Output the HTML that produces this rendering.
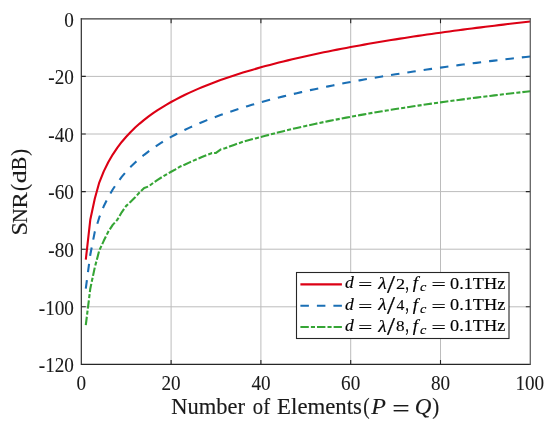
<!DOCTYPE html>
<html><head><meta charset="utf-8"><style>
html,body{margin:0;padding:0;background:#fff;width:550px;height:424px;overflow:hidden}
svg{display:block}
</style></head><body>
<svg width="550" height="424" viewBox="0 0 550 424">
<rect width="550" height="424" fill="#fff"/>
<path d="M171.10,18.80V364.40M260.90,18.80V364.40M350.70,18.80V364.40M440.50,18.80V364.40M530.30,18.80V364.40M81.30,76.40H530.30M81.30,134.00H530.30M81.30,191.60H530.30M81.30,249.20H530.30M81.30,306.80H530.30" stroke="#bcbcbc" stroke-width="1" fill="none"/>
<path d="M85.79,259.68 L90.28,219.82 L94.77,198.67 L99.26,182.55 L103.75,171.39 L108.24,162.26 L112.73,154.55 L117.22,147.87 L121.71,141.98 L126.20,136.71 L130.69,131.94 L135.18,127.59 L139.67,123.58 L144.16,119.87 L148.65,116.42 L153.14,113.19 L157.63,110.16 L162.12,107.30 L166.61,104.59 L171.10,102.03 L175.59,99.59 L180.08,97.26 L184.57,95.04 L189.06,92.91 L193.55,90.86 L198.04,88.90 L202.53,87.01 L207.02,85.19 L211.51,83.44 L216.00,81.74 L220.49,80.10 L224.98,78.51 L229.47,76.97 L233.96,75.48 L238.45,74.03 L242.94,72.62 L247.43,71.25 L251.92,69.92 L256.41,68.62 L260.90,67.35 L265.39,66.11 L269.88,64.91 L274.37,63.73 L278.86,62.58 L283.35,61.46 L287.84,60.36 L292.33,59.28 L296.82,58.23 L301.31,57.20 L305.80,56.19 L310.29,55.20 L314.78,54.22 L319.27,53.27 L323.76,52.34 L328.25,51.42 L332.74,50.52 L337.23,49.63 L341.72,48.76 L346.21,47.91 L350.70,47.06 L355.19,46.24 L359.68,45.42 L364.17,44.62 L368.66,43.84 L373.15,43.06 L377.64,42.30 L382.13,41.54 L386.62,40.80 L391.11,40.07 L395.60,39.35 L400.09,38.64 L404.58,37.94 L409.07,37.25 L413.56,36.57 L418.05,35.90 L422.54,35.24 L427.03,34.58 L431.52,33.94 L436.01,33.30 L440.50,32.67 L444.99,32.05 L449.48,31.44 L453.97,30.83 L458.46,30.23 L462.95,29.64 L467.44,29.05 L471.93,28.47 L476.42,27.90 L480.91,27.34 L485.40,26.78 L489.89,26.23 L494.38,25.68 L498.87,25.14 L503.36,24.60 L507.85,24.07 L512.34,23.55 L516.83,23.03 L521.32,22.52 L525.81,22.01 L530.30,21.51" stroke="#dc0014" stroke-width="2.1" fill="none" stroke-linejoin="round"/>
<path d="M85.79,288.57 L90.28,254.75 L94.77,231.88 L99.26,217.48 L103.75,206.32 L108.24,197.20 L112.73,189.49 L117.22,182.81 L121.71,176.91 L126.20,171.64 L130.69,166.87 L135.18,162.52 L139.67,158.52 L144.16,154.81 L148.65,151.36 L153.14,148.13 L157.63,145.09 L162.12,142.23 L166.61,139.53 L171.10,136.96 L175.59,134.52 L180.08,132.19 L184.57,129.97 L189.06,127.84 L193.55,125.80 L198.04,123.84 L202.53,121.95 L207.02,120.13 L211.51,118.37 L216.00,116.68 L220.49,115.04 L224.98,113.45 L229.47,111.91 L233.96,110.42 L238.45,108.96 L242.94,107.56 L247.43,106.18 L251.92,104.85 L256.41,103.55 L260.90,102.28 L265.39,101.05 L269.88,99.84 L274.37,98.67 L278.86,97.52 L283.35,96.39 L287.84,95.29 L292.33,94.22 L296.82,93.16 L301.31,92.13 L305.80,91.12 L310.29,90.13 L314.78,89.16 L319.27,88.21 L323.76,87.27 L328.25,86.35 L332.74,85.45 L337.23,84.56 L341.72,83.69 L346.21,82.84 L350.70,82.00 L355.19,81.17 L359.68,80.36 L364.17,79.56 L368.66,78.77 L373.15,77.99 L377.64,77.23 L382.13,76.48 L386.62,75.74 L391.11,75.01 L395.60,74.29 L400.09,73.58 L404.58,72.88 L409.07,72.19 L413.56,71.51 L418.05,70.83 L422.54,70.17 L427.03,69.52 L431.52,68.87 L436.01,68.23 L440.50,67.61 L444.99,66.98 L449.48,66.37 L453.97,65.76 L458.46,65.16 L462.95,64.57 L467.44,63.99 L471.93,63.41 L476.42,62.84 L480.91,62.27 L485.40,61.71 L489.89,61.16 L494.38,60.61 L498.87,60.07 L503.36,59.54 L507.85,59.01 L512.34,58.48 L516.83,57.97 L521.32,57.45 L525.81,56.94 L530.30,56.44" stroke="#1a6fb5" stroke-width="2.1" fill="none" stroke-dasharray="8.5 8" stroke-linejoin="round"/>
<path d="M85.79,325.09 L90.28,288.68 L94.77,267.53 L99.26,250.55 L103.75,240.82 L108.24,231.70 L112.73,224.85 L117.22,219.90 L121.71,212.28 L126.20,205.86 L130.69,201.66 L135.18,197.31 L139.67,192.30 L144.16,188.01 L148.65,186.43 L153.14,182.92 L157.63,179.88 L162.12,177.02 L166.61,174.32 L171.10,171.75 L175.59,169.31 L180.08,166.55 L184.57,164.76 L189.06,162.63 L193.55,160.59 L198.04,158.63 L202.53,156.74 L207.02,154.92 L211.51,153.16 L216.00,152.91 L220.49,149.54 L224.98,148.24 L229.47,146.56 L233.96,144.92 L238.45,143.32 L242.94,141.77 L247.43,140.54 L251.92,139.35 L256.41,138.20 L260.90,137.07 L265.39,135.84 L269.88,134.63 L274.37,133.46 L278.86,132.31 L283.35,131.18 L287.84,130.08 L292.33,129.01 L296.82,127.95 L301.31,126.92 L305.80,125.91 L310.29,124.92 L314.78,123.95 L319.27,123.00 L323.76,122.06 L328.25,121.14 L332.74,120.24 L337.23,119.36 L341.72,118.49 L346.21,117.63 L350.70,116.79 L355.19,115.96 L359.68,115.15 L364.17,114.35 L368.66,113.56 L373.15,112.78 L377.64,112.02 L382.13,111.27 L386.62,110.53 L391.11,109.80 L395.60,109.08 L400.09,108.37 L404.58,107.67 L409.07,106.98 L413.56,106.30 L418.05,105.62 L422.54,104.96 L427.03,104.31 L431.52,103.66 L436.01,103.03 L440.50,102.40 L444.99,101.77 L449.48,101.16 L453.97,100.55 L458.46,99.96 L462.95,99.36 L467.44,98.78 L471.93,98.20 L476.42,97.63 L480.91,97.06 L485.40,96.50 L489.89,95.95 L494.38,95.40 L498.87,94.86 L503.36,94.33 L507.85,93.80 L512.34,93.27 L516.83,92.76 L521.32,92.24 L525.81,91.73 L530.30,91.23" stroke="#35a535" stroke-width="2.1" fill="none" stroke-dasharray="8.4 2.1 4.1 2" stroke-linejoin="round"/>
<path d="M171.10,364.40v-4.5M171.10,18.80v4.5M260.90,364.40v-4.5M260.90,18.80v4.5M350.70,364.40v-4.5M350.70,18.80v4.5M440.50,364.40v-4.5M440.50,18.80v4.5M81.30,76.40h4.5M530.30,76.40h-4.5M81.30,134.00h4.5M530.30,134.00h-4.5M81.30,191.60h4.5M530.30,191.60h-4.5M81.30,249.20h4.5M530.30,249.20h-4.5M81.30,306.80h4.5M530.30,306.80h-4.5" stroke="#262626" stroke-width="1.1" fill="none"/>
<path d="M81.30,18.25V364.95M80.75,364.40H530.85" stroke="#262626" stroke-width="1.15" fill="none"/>
<path d="M80.75,18.80H530.85" stroke="#3a3a3a" stroke-width="1.15" fill="none"/>
<path d="M530.30,18.25V364.95" stroke="#5e5e5e" stroke-width="1.15" fill="none"/>
<text transform="translate(64.32,26.60) scale(0.95,1)" font-family="'Liberation Serif', serif" font-size="20.2" fill="#1a1a1a" stroke="#1a1a1a" stroke-width="0.08">0</text>
<text transform="translate(48.35,84.20) scale(0.95,1)" font-family="'Liberation Serif', serif" font-size="20.2" fill="#1a1a1a" stroke="#1a1a1a" stroke-width="0.08">-20</text>
<text transform="translate(48.35,141.80) scale(0.95,1)" font-family="'Liberation Serif', serif" font-size="20.2" fill="#1a1a1a" stroke="#1a1a1a" stroke-width="0.08">-40</text>
<text transform="translate(48.35,199.40) scale(0.95,1)" font-family="'Liberation Serif', serif" font-size="20.2" fill="#1a1a1a" stroke="#1a1a1a" stroke-width="0.08">-60</text>
<text transform="translate(48.35,257.00) scale(0.95,1)" font-family="'Liberation Serif', serif" font-size="20.2" fill="#1a1a1a" stroke="#1a1a1a" stroke-width="0.08">-80</text>
<text transform="translate(38.75,314.60) scale(0.95,1)" font-family="'Liberation Serif', serif" font-size="20.2" fill="#1a1a1a" stroke="#1a1a1a" stroke-width="0.08">-100</text>
<text transform="translate(38.75,372.20) scale(0.95,1)" font-family="'Liberation Serif', serif" font-size="20.2" fill="#1a1a1a" stroke="#1a1a1a" stroke-width="0.08">-120</text>
<text transform="translate(76.50,389.5) scale(0.95,1)" font-family="'Liberation Serif', serif" font-size="20.2" fill="#1a1a1a" stroke="#1a1a1a" stroke-width="0.08">0</text>
<text transform="translate(161.43,389.5) scale(0.95,1)" font-family="'Liberation Serif', serif" font-size="20.2" fill="#1a1a1a" stroke="#1a1a1a" stroke-width="0.08">20</text>
<text transform="translate(251.47,389.5) scale(0.95,1)" font-family="'Liberation Serif', serif" font-size="20.2" fill="#1a1a1a" stroke="#1a1a1a" stroke-width="0.08">40</text>
<text transform="translate(341.06,389.5) scale(0.95,1)" font-family="'Liberation Serif', serif" font-size="20.2" fill="#1a1a1a" stroke="#1a1a1a" stroke-width="0.08">60</text>
<text transform="translate(430.91,389.5) scale(0.95,1)" font-family="'Liberation Serif', serif" font-size="20.2" fill="#1a1a1a" stroke="#1a1a1a" stroke-width="0.08">80</text>
<text transform="translate(515.43,389.5) scale(0.95,1)" font-family="'Liberation Serif', serif" font-size="20.2" fill="#1a1a1a" stroke="#1a1a1a" stroke-width="0.08">100</text>
<text transform="translate(171.32,414.10) scale(0.9796,1.0000)" font-family="'Liberation Serif', serif" font-size="23" fill="#1a1a1a" stroke="#1a1a1a" stroke-width="0.15">Number</text>
<text transform="translate(252.83,414.10) scale(0.8969,1.0000)" font-family="'Liberation Serif', serif" font-size="23" fill="#1a1a1a" stroke="#1a1a1a" stroke-width="0.15">of</text>
<text transform="translate(277.12,414.10) scale(0.9921,1.0000)" font-family="'Liberation Serif', serif" font-size="23" fill="#1a1a1a" stroke="#1a1a1a" stroke-width="0.15">Elements</text>
<text transform="translate(363.14,414.10) scale(0.8355,1.0000)" font-family="'Liberation Serif', serif" font-size="23" fill="#1a1a1a" stroke="#1a1a1a" stroke-width="0.15">(</text>
<text transform="translate(371.22,414.10) scale(1.0464,1.0000)" font-family="'Liberation Serif', serif" font-style="italic" font-size="23" fill="#1a1a1a" stroke="#1a1a1a" stroke-width="0.15">P</text>
<text transform="translate(392.15,415.70) scale(1.3464,1.0000)" font-family="'Liberation Serif', serif" font-size="23" fill="#1a1a1a" stroke="#1a1a1a" stroke-width="0.15">=</text>
<text transform="translate(414.63,414.10) scale(1.0005,1.0000)" font-family="'Liberation Serif', serif" font-style="italic" font-size="23" fill="#1a1a1a" stroke="#1a1a1a" stroke-width="0.15">Q</text>
<text transform="translate(432.32,414.10) scale(0.9118,1.0000)" font-family="'Liberation Serif', serif" font-size="23" fill="#1a1a1a" stroke="#1a1a1a" stroke-width="0.15">)</text>
<text transform="translate(26.88,235.53) rotate(-90) scale(1.0475,0.9762)" font-family="'Liberation Serif', serif" font-size="23" fill="#1a1a1a" stroke="#1a1a1a" stroke-width="0.15">S</text>
<text transform="translate(26.60,223.10) rotate(-90) scale(0.8761,0.9359)" font-family="'Liberation Serif', serif" font-size="23" fill="#1a1a1a" stroke="#1a1a1a" stroke-width="0.15">N</text>
<text transform="translate(26.60,208.64) rotate(-90) scale(1.0750,0.9359)" font-family="'Liberation Serif', serif" font-size="23" fill="#1a1a1a" stroke="#1a1a1a" stroke-width="0.15">R</text>
<text transform="translate(26.96,190.95) rotate(-90) scale(0.9207,1.0109)" font-family="'Liberation Serif', serif" font-size="23" fill="#1a1a1a" stroke="#1a1a1a" stroke-width="0.15">(</text>
<text transform="translate(26.11,183.21) rotate(-90) scale(1.1338,0.8449)" font-family="'Liberation Serif', serif" font-size="23" fill="#1a1a1a" stroke="#1a1a1a" stroke-width="0.15">d</text>
<text transform="translate(26.25,170.20) rotate(-90) scale(0.8733,0.8729)" font-family="'Liberation Serif', serif" font-size="23" fill="#1a1a1a" stroke="#1a1a1a" stroke-width="0.15">B</text>
<text transform="translate(26.94,156.11) rotate(-90) scale(0.9455,1.0157)" font-family="'Liberation Serif', serif" font-size="23" fill="#1a1a1a" stroke="#1a1a1a" stroke-width="0.15">)</text>
<rect x="296.5" y="272.5" width="212.5" height="66" fill="#fff" stroke="#262626" stroke-width="1.1"/>
<path d="M300.4,284.4H341.9" stroke="#dc0014" stroke-width="2.1"/>
<text transform="translate(344.97,288.44) scale(1.0456,0.9794)" font-family="'Liberation Serif', serif" font-style="italic" font-size="16.8" fill="#000" stroke="#000" stroke-width="0.15">d</text>
<text transform="translate(358.25,290.25) scale(1.4849,1.0476)" font-family="'Liberation Serif', serif" font-size="16.8" fill="#000" stroke="#000" stroke-width="0.15">=</text>
<text transform="translate(378.29,288.90) scale(1.1561,1.0301)" font-family="'Liberation Serif', serif" font-style="italic" font-size="16.8" fill="#000" stroke="#000" stroke-width="0.15">λ</text>
<text transform="translate(386.90,292.84) scale(1.7160,1.5192)" font-family="'Liberation Serif', serif" font-size="16.8" fill="#000" stroke="#000" stroke-width="0.15">/</text>
<text transform="translate(395.88,288.70) scale(1.0863,0.8805)" font-family="'Liberation Serif', serif" font-size="16.8" fill="#000" stroke="#000" stroke-width="0.15">2</text>
<text transform="translate(405.50,288.57) scale(0.7937,1.3176)" font-family="'Liberation Serif', serif" font-size="16.8" fill="#000" stroke="#000" stroke-width="0.15">,</text>
<text transform="translate(412.87,288.39) scale(1.1122,1.0121)" font-family="'Liberation Serif', serif" font-style="italic" font-size="16.8" fill="#000" stroke="#000" stroke-width="0.15">f</text>
<text transform="translate(419.97,291.28) scale(0.8577,0.7316)" font-family="'Liberation Serif', serif" font-style="italic" font-size="16.8" fill="#000" stroke="#000" stroke-width="0.15">c</text>
<text transform="translate(431.43,290.25) scale(1.5105,1.0476)" font-family="'Liberation Serif', serif" font-size="16.8" fill="#000" stroke="#000" stroke-width="0.15">=</text>
<text transform="translate(450.01,288.74) scale(1.0879,1.0242)" font-family="'Liberation Serif', serif" font-size="16.8" fill="#000" stroke="#000" stroke-width="0.15">0.1THz</text>
<path d="M300.4,305.8H341.9" stroke="#1a6fb5" stroke-width="2.1" stroke-dasharray="8.5 8"/>
<text transform="translate(344.97,309.84) scale(1.0456,0.9794)" font-family="'Liberation Serif', serif" font-style="italic" font-size="16.8" fill="#000" stroke="#000" stroke-width="0.15">d</text>
<text transform="translate(358.25,311.65) scale(1.4849,1.0476)" font-family="'Liberation Serif', serif" font-size="16.8" fill="#000" stroke="#000" stroke-width="0.15">=</text>
<text transform="translate(378.29,310.30) scale(1.1561,1.0301)" font-family="'Liberation Serif', serif" font-style="italic" font-size="16.8" fill="#000" stroke="#000" stroke-width="0.15">λ</text>
<text transform="translate(386.90,314.24) scale(1.7160,1.5192)" font-family="'Liberation Serif', serif" font-size="16.8" fill="#000" stroke="#000" stroke-width="0.15">/</text>
<text transform="translate(396.39,310.10) scale(0.9345,0.8872)" font-family="'Liberation Serif', serif" font-size="16.8" fill="#000" stroke="#000" stroke-width="0.15">4</text>
<text transform="translate(405.50,309.97) scale(0.7937,1.3176)" font-family="'Liberation Serif', serif" font-size="16.8" fill="#000" stroke="#000" stroke-width="0.15">,</text>
<text transform="translate(412.87,309.79) scale(1.1122,1.0121)" font-family="'Liberation Serif', serif" font-style="italic" font-size="16.8" fill="#000" stroke="#000" stroke-width="0.15">f</text>
<text transform="translate(419.97,312.68) scale(0.8577,0.7316)" font-family="'Liberation Serif', serif" font-style="italic" font-size="16.8" fill="#000" stroke="#000" stroke-width="0.15">c</text>
<text transform="translate(431.43,311.65) scale(1.5105,1.0476)" font-family="'Liberation Serif', serif" font-size="16.8" fill="#000" stroke="#000" stroke-width="0.15">=</text>
<text transform="translate(450.01,310.14) scale(1.0879,1.0242)" font-family="'Liberation Serif', serif" font-size="16.8" fill="#000" stroke="#000" stroke-width="0.15">0.1THz</text>
<path d="M300.4,327.0H341.9" stroke="#35a535" stroke-width="2.1" stroke-dasharray="8.4 2.1 4.1 2"/>
<text transform="translate(344.97,331.04) scale(1.0456,0.9794)" font-family="'Liberation Serif', serif" font-style="italic" font-size="16.8" fill="#000" stroke="#000" stroke-width="0.15">d</text>
<text transform="translate(358.25,332.85) scale(1.4849,1.0476)" font-family="'Liberation Serif', serif" font-size="16.8" fill="#000" stroke="#000" stroke-width="0.15">=</text>
<text transform="translate(378.29,331.50) scale(1.1561,1.0301)" font-family="'Liberation Serif', serif" font-style="italic" font-size="16.8" fill="#000" stroke="#000" stroke-width="0.15">λ</text>
<text transform="translate(386.90,335.44) scale(1.7160,1.5192)" font-family="'Liberation Serif', serif" font-size="16.8" fill="#000" stroke="#000" stroke-width="0.15">/</text>
<text transform="translate(396.06,331.15) scale(1.0224,0.8642)" font-family="'Liberation Serif', serif" font-size="16.8" fill="#000" stroke="#000" stroke-width="0.15">8</text>
<text transform="translate(405.50,331.17) scale(0.7937,1.3176)" font-family="'Liberation Serif', serif" font-size="16.8" fill="#000" stroke="#000" stroke-width="0.15">,</text>
<text transform="translate(412.87,330.99) scale(1.1122,1.0121)" font-family="'Liberation Serif', serif" font-style="italic" font-size="16.8" fill="#000" stroke="#000" stroke-width="0.15">f</text>
<text transform="translate(419.97,333.88) scale(0.8577,0.7316)" font-family="'Liberation Serif', serif" font-style="italic" font-size="16.8" fill="#000" stroke="#000" stroke-width="0.15">c</text>
<text transform="translate(431.43,332.85) scale(1.5105,1.0476)" font-family="'Liberation Serif', serif" font-size="16.8" fill="#000" stroke="#000" stroke-width="0.15">=</text>
<text transform="translate(450.01,331.34) scale(1.0879,1.0242)" font-family="'Liberation Serif', serif" font-size="16.8" fill="#000" stroke="#000" stroke-width="0.15">0.1THz</text>
</svg>
</body></html>
